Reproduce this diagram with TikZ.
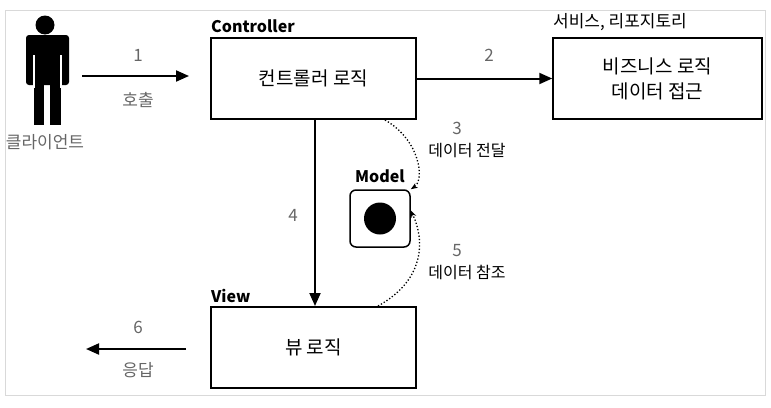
\documentclass[tikz,border=0pt]{standalone}
\usepackage{fontspec}
\setmainfont{Noto Sans CJK KR}
\usetikzlibrary{arrows.meta}
\begin{document}
\begin{tikzpicture}[x=1pt,y=-1pt,
  box/.style={draw,line width=1.5pt,minimum width=205pt,minimum height=81pt,font=\fontsize{19}{23}\selectfont},
  lbl/.style={font=\fontsize{16}{19}\selectfont\bfseries},
  num/.style={text=black!60,font=\fontsize{17}{20}\selectfont},
  small/.style={font=\fontsize{16}{19}\selectfont},
  arr/.style={line width=2pt,-{Triangle[length=13pt,width=11pt]}},
  dot/.style={dotted,line width=1.3pt,-{Stealth[length=7pt]}}]
\useasboundingbox (0,0) rectangle (771,407);
\draw[black!15,line width=1pt] (5,10) rectangle (765,395);
% person
\fill (45,25) circle (9.5);
\fill[rounded corners=3pt] (26,35) rectangle (69,85);
\fill (34,80) rectangle (44,125);
\fill (50,80) rectangle (61,125);
\fill[white] (33,55) rectangle (35,88);
\fill[white] (60,55) rectangle (62,88);
\node[num] (cl) at (45,142) {클라이언트};
\node[box] (ctrl) at (313.5,78.5) {컨트롤러 로직};
\node[lbl,anchor=south west,inner sep=0pt] (ctrll) at (211,33) {Controller};
\node[box,minimum width=209pt,align=center] (svc) at (657.5,78.5) {비즈니스 로직\\[2pt]데이터 접근};
\node[font=\fontsize{17}{20}\selectfont,anchor=south west,inner sep=0pt] (svcl) at (553,31) {서비스, 리포지토리};
\node[box] (view) at (313.5,347.5) {뷰 로직};
\node[lbl,anchor=south west,inner sep=0pt] (viewl) at (211,303) {View};
\node[draw,line width=1.5pt,rounded corners=6pt,minimum width=60pt,minimum height=57pt] (model) at (380,218.5) {};
\fill (model.center) circle (16);
\node[lbl] (modell) at (380,176) {Model};
\coordinate (p1) at (82,76);
\coordinate (p1e) at (189,76);
\draw[arr] (p1) -- (p1e);
\node[num] at (138,55) {1};
\node[num] at (138,100) {호출};
\draw[arr] (ctrl.east) -- (svc.west);
\node[num] at (489,55) {2};
\draw[arr] (315,119) -- (315,306);
\node[num] at (293,215) {4};
\coordinate (p6) at (186,349);
\coordinate (p6e) at (86,349);
\draw[arr] (p6) -- (p6e);
\node[num] at (138,327) {6};
\node[num] at (138,370) {응답};
\draw[dot] (385,120) .. controls (420,140) and (425,180) .. (model.north east);
\node[num] at (457,128) {3};
\node[small] at (467,151) {데이터 전달};
\draw[dot] (378,306) .. controls (425,280) and (425,240) .. ([yshift=8pt]model.east);
\node[num] at (457,251) {5};
\node[small] at (467,272) {데이터 참조};
\end{tikzpicture}
\end{document}
